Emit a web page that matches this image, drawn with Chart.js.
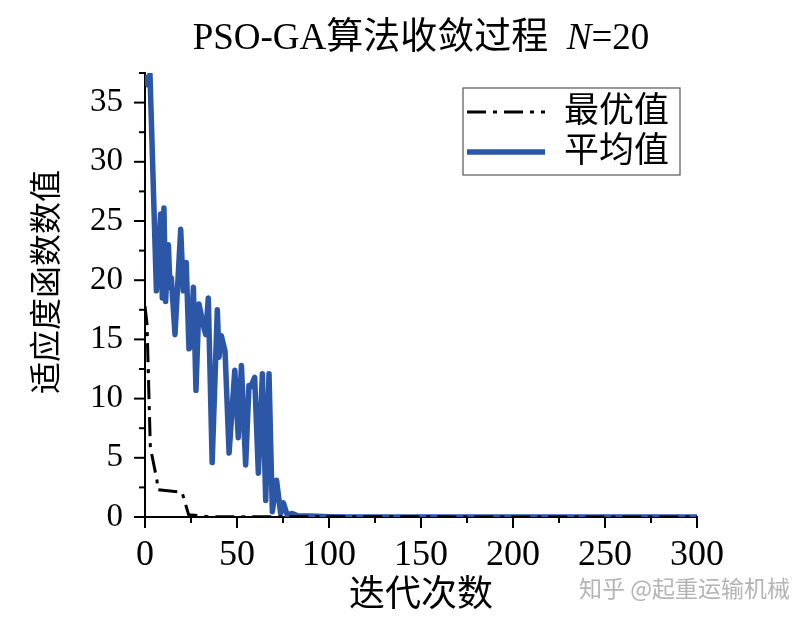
<!DOCTYPE html>
<html>
<head>
<meta charset="utf-8">
<script src="https://cdn.jsdelivr.net/npm/chart.js@4/dist/chart.umd.min.js"></script>
<style>
  html, body { margin: 0; padding: 0; background: #fff; }
  #wrap { width: 810px; height: 620px; }
</style>
</head>
<body>
<div id="wrap"><canvas id="chart" width="810" height="620"></canvas></div>
<script>
// ---------- DATA ----------
const seriesNames = ["最优值", "平均值"];

const bestX = [0, 1.1, 2.9, 6.5, 6.9, 20.1, 23.7, 30, 35, 300];
const bestY = [17.8, 16.3, 5.9, 3.1, 2.3, 2.1, 0.2, 0.1, 0.02, 0];

const avgX = [0, 1.5, 2.7, 6.2, 8.5, 9.4, 10.3, 11.2, 12.7, 13.6, 14.3, 16.3, 19.4, 20.8,
  22.4, 23.9, 24.8, 26.3, 27.7, 29.3, 32, 33, 34.4, 36.5, 39.3, 40.2, 41.5, 43.5,
  45.7, 48.8, 50.7, 52.4, 54.7, 56.5, 57.5, 59.6, 61.6, 63.8, 65.6, 67.4, 69.2,
  71.5, 73.7, 75.2, 77.3, 80, 83, 90, 100, 110, 300];
const avgY = [37.3, 36.5, 37.4, 19.1, 25.6, 18.5, 26.1, 18.2, 23.0, 19.4, 20.2, 15.4, 24.3, 19.1,
  21.5, 14.2, 14.4, 19.4, 10.7, 18.0, 16.0, 15.4, 18.5, 4.6, 17.5, 13.5, 15.3, 14.0,
  5.4, 12.4, 6.7, 12.8, 4.4, 11.1, 11.0, 11.8, 3.7, 12.1, 1.4, 12.1, 0.45,
  3.1, 0.3, 1.2, 0.17, 0.3, 0.1, 0.08, 0.03, 0, 0];

const xMin = 0, xMax = 300, xStep = 25, xLabelStep = 50;
const yMin = 0, yMax = 37.5, yStep = 2.5, yLabelStep = 5;

const titleMain = "PSO-GA算法收敛过程  ";
const titleVar = "N";
const titleTail = "=20";
const xTitle = "迭代次数";
const yTitle = "适应度函数数值";
const watermark = "知乎 @起重运输机械";

const SERIF = '"Liberation Serif", "Noto Sans CJK SC", serif';
const BLUE = "#2c56a6";

function toPoints(xs, ys) {
  return xs.map((x, i) => ({ x: x, y: ys[i] }));
}

// ---------- PLUGIN: ticks, legend, titles ----------
const decorPlugin = {
  id: "decor",
  afterDraw(chart) {
    const ctx = chart.ctx;
    const xs = chart.scales.x, ys = chart.scales.y;
    const area = chart.chartArea;
    ctx.save();
    ctx.strokeStyle = "#000";
    ctx.lineWidth = 2;

    // y ticks (outward)
    ys.ticks.forEach(t => {
      const py = ys.getPixelForValue(t.value);
      const major = Math.abs(t.value % yLabelStep) < 1e-6;
      ctx.beginPath();
      ctx.moveTo(area.left, py);
      ctx.lineTo(area.left - (major ? 11 : 6), py);
      ctx.stroke();
    });
    // x ticks (outward)
    xs.ticks.forEach(t => {
      const px = xs.getPixelForValue(t.value);
      const major = Math.abs(t.value % xLabelStep) < 1e-6;
      ctx.beginPath();
      ctx.moveTo(px, area.bottom);
      ctx.lineTo(px, area.bottom + (major ? 11 : 6));
      ctx.stroke();
    });

    // y title (rotated)
    ctx.save();
    ctx.translate(49, 282);
    ctx.rotate(-Math.PI / 2);
    ctx.fillStyle = "#000";
    ctx.font = "32px " + SERIF;
    ctx.textAlign = "center";
    ctx.textBaseline = "middle";
    ctx.fillText(yTitle, 0, 0);
    ctx.restore();

    // legend
    const lx = 463, ly = 88, lw = 217, lh = 87;
    ctx.fillStyle = "#fff";
    ctx.fillRect(lx, ly, lw, lh);
    ctx.strokeStyle = "#555";
    ctx.lineWidth = 1.2;
    ctx.strokeRect(lx, ly, lw, lh);
    const rows = [112, 152];
    chart.data.datasets.forEach((ds, i) => {
      ctx.beginPath();
      ctx.strokeStyle = ds.borderColor;
      ctx.lineWidth = ds.borderWidth;
      ctx.setLineDash(ds.borderDash || []);
      ctx.moveTo(467, rows[i]);
      ctx.lineTo(545, rows[i]);
      ctx.stroke();
      ctx.setLineDash([]);
      ctx.fillStyle = "#000";
      ctx.font = "35px " + SERIF;
      ctx.textBaseline = "middle";
      ctx.textAlign = "left";
      ctx.fillText(ds.label, 564, rows[i] + 1);
    });

    // title with italic N
    ctx.fillStyle = "#000";
    ctx.textBaseline = "alphabetic";
    ctx.textAlign = "left";
    const fN = "37px " + SERIF, fI = "italic 37px " + SERIF;
    ctx.font = fN;
    const w1 = ctx.measureText(titleMain).width;
    const w3 = ctx.measureText(titleTail).width;
    ctx.font = fI;
    const w2 = ctx.measureText(titleVar).width;
    let tx = 421 - (w1 + w2 + w3) / 2;
    const tb = 49;
    ctx.font = fN; ctx.fillText(titleMain, tx, tb); tx += w1;
    ctx.font = fI; ctx.fillText(titleVar, tx, tb); tx += w2;
    ctx.font = fN; ctx.fillText(titleTail, tx, tb);

    // watermark
    ctx.fillStyle = "#b4b4b4";
    ctx.font = '23px "Noto Sans CJK SC", sans-serif';
    ctx.textAlign = "right";
    ctx.textBaseline = "middle";
    ctx.fillText(watermark, 790, 588);
    ctx.restore();
  }
};

// ---------- CHART ----------
const chart = new Chart(document.getElementById("chart").getContext("2d"), {
  type: "line",
  data: {
    datasets: [
      {
        label: seriesNames[0],
        data: toPoints(bestX, bestY),
        borderColor: "#000",
        borderWidth: 3,
        borderDash: [19, 7, 4, 7],
        pointRadius: 0,
        tension: 0,
        order: 1
      },
      {
        label: seriesNames[1],
        data: toPoints(avgX, avgY),
        borderColor: BLUE,
        borderWidth: 5.5,
        pointRadius: 0,
        tension: 0,
        borderJoinStyle: "round",
        order: 2
      }
    ]
  },
  options: {
    responsive: false,
    animation: false,
    layout: { padding: { left: 0, right: 113, top: 73, bottom: 0 } },
    plugins: { legend: { display: false }, title: { display: false }, tooltip: { enabled: false } },
    scales: {
      x: {
        type: "linear",
        min: xMin, max: xMax,
        afterFit: (s) => { s.height = 103; },
        border: { display: true, color: "#000", width: 2 },
        grid: { display: false, drawTicks: false },
        ticks: {
          stepSize: xStep,
          autoSkip: false,
          maxRotation: 0,
          padding: 17,
          color: "#000",
          font: { family: SERIF, size: 36 },
          callback: (v) => (v % xLabelStep === 0 ? String(v) : "")
        },
        title: {
          display: true,
          text: xTitle,
          color: "#000",
          font: { family: SERIF, size: 36 },
          padding: { top: 0, bottom: 2 }
        }
      },
      y: {
        type: "linear",
        min: yMin, max: yMax,
        afterFit: (s) => { s.width = 145; },
        border: { display: true, color: "#000", width: 2 },
        grid: { display: false, drawTicks: false },
        ticks: {
          stepSize: yStep,
          autoSkip: false,
          padding: 22,
          color: "#000",
          font: { family: SERIF, size: 33 },
          callback: (v) => (Math.abs(v % yLabelStep) < 1e-6 ? String(v) : "")
        }
      }
    }
  },
  plugins: [decorPlugin]
});
</script>
</body>
</html>
